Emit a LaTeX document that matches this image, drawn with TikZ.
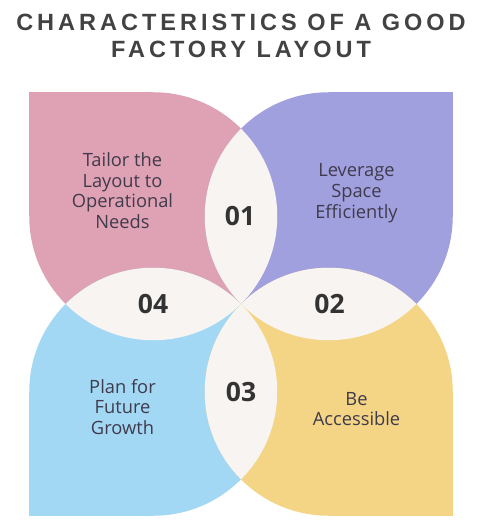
\documentclass[tikz,border=0pt]{standalone}
\usepackage{fontspec}
\setmainfont{Open Sans}
\newfontfamily\headfont[LetterSpace=17]{Liberation Sans}
\definecolor{petalpink}{HTML}{DFA2B4}
\definecolor{petalviolet}{HTML}{A1A0DF}
\definecolor{petalblue}{HTML}{A3D8F5}
\definecolor{petalgold}{HTML}{F4D585}
\definecolor{lensgray}{HTML}{F8F4F2}
\definecolor{inkgray}{HTML}{3F3B4C}
\definecolor{numgray}{HTML}{333333}
\definecolor{headgray}{HTML}{424242}
\tikzset{
  petal text/.style={text=inkgray, align=center, font=\fontsize{18.3}{20.7}\selectfont},
  step num/.style={text=numgray, font=\bfseries\fontsize{26.5}{26.5}\selectfont},
  lens/.style={fill=lensgray},
}
\begin{document}
\begin{tikzpicture}[x=1pt,y=-1pt]
\useasboundingbox (0,0) rectangle (480,526);
\fill[white] (0,0) rectangle (480,526);
% circle centres of the four petals
\coordinate (cP) at (153.25,216.25);
\coordinate (cV) at (328.75,216.25);
\coordinate (cB) at (153.25,391.75);
\coordinate (cG) at (328.75,391.75);
% petals: one square corner, the rest round
\fill[petalpink] (cP) circle[radius=124pt];
\fill[petalpink] (29.25,92.25) rectangle (cP);
\fill[petalviolet] (cV) circle[radius=124pt];
\fill[petalviolet] (452.75,92.25) rectangle (cV);
\fill[petalblue] (cB) circle[radius=124pt];
\fill[petalblue] (29.25,515.75) rectangle (cB);
\fill[petalgold] (cG) circle[radius=124pt];
\fill[petalgold] (452.75,515.75) rectangle (cG);
% lenses where two petals overlap
\begin{scope}
  \clip (cP) circle[radius=124pt];
  \fill[lens] (cV) circle[radius=124pt];
  \fill[lens] (cB) circle[radius=124pt];
\end{scope}
\begin{scope}
  \clip (cG) circle[radius=124pt];
  \fill[lens] (cV) circle[radius=124pt];
  \fill[lens] (cB) circle[radius=124pt];
\end{scope}
\node[text=headgray, align=center, font=\headfont\bfseries\fontsize{23.5}{27}\selectfont] (title) at (241,36)
  {CHARACTERISTICS OF A GOOD\\FACTORY LAYOUT};
\node[step num] (n01) at (240,216) {01};
\node[step num] (n02) at (329.5,304) {02};
\node[step num] (n03) at (241,392) {03};
\node[step num] (n04) at (153,304) {04};
\node[petal text] (tailor) at (122.5,190.5) {Tailor the\\Layout to\\Operational\\Needs};
\node[petal text] (space) at (356.5,193) {Leverage\\Space\\Efficiently};
\node[petal text] (growth) at (122.5,407) {Plan for\\Future\\Growth};
\node[petal text] (access) at (356.5,409) {Be\\Accessible};
\end{tikzpicture}
\end{document}
